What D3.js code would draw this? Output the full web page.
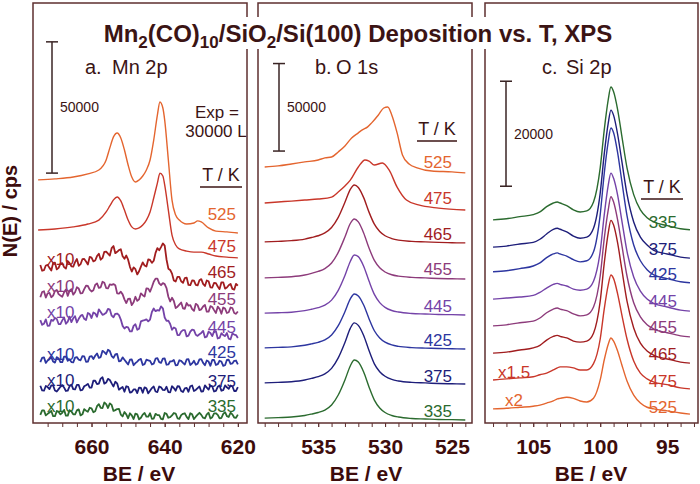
<!DOCTYPE html>
<html>
<head>
<meta charset="utf-8">
<script src="https://cdn.jsdelivr.net/npm/d3@7"></script>
<style>
  body { margin: 0; background: #fff; }
  svg { display: block; font-family: "Liberation Sans", Arial, Helvetica, sans-serif; }
</style>
</head>
<body>
<svg id="chart" width="700" height="484"></svg>
<script>
// temperatures, top trace first
const temps = ['525', '475', '465', '455', '445', '425', '375', '335'];
const traceColors = ['#e4652f', '#c9372a', '#a11d1f', '#8d3b7b', '#7443a8', '#2d36a0', '#1e1e7a', '#2b6b2f'];

// ---- a. Mn 2p (kcps, relative to each trace offset) ----
const mnPeakBE = [674.6, 670, 665, 661, 658, 656, 655, 654, 653, 652, 651, 650, 649, 648, 647, 646, 645, 644, 643, 642,
  641.3, 640.5, 640, 639, 638, 637, 636, 634, 632, 631, 630, 628, 626, 623, 620];
const mn525 = [20.2, 20.6, 21.3, 22.5, 24.0, 27.8, 32.4, 36.6, 38.1, 36.2, 31.6, 25.9, 21.3, 19.4, 20.2, 21.7, 24.0, 27.8, 35.4, 44.9,
  49.9, 47.6, 43.0, 27.8, 12.5, 6.8, 4.9, 3.4, 3.8, 4.6, 4.2, 1.9, 0.7, 0.4, 0];
const mn475 = [10.6, 11.0, 11.8, 12.9, 14.4, 17.5, 19.8, 22.1, 23.2, 21.7, 18.2, 14.4, 11.8, 11.0, 11.4, 12.5, 14.4, 17.5, 22.8, 28.5,
  32.3, 31.2, 27.8, 18.2, 8.7, 4.9, 3.4, 2.6, 2.2, 2.2, 2.2, 1.5, 0.7, 0.3, 0];

// x10 traces, sampled every 0.5 eV from 674 to 620 eV
const mnGrid = d3.range(674, 619.99, -0.5);
const mn465 = [8.4, 6.2, 6.4, 8.2, 8.4, 7.3, 6.3, 9.1, 9.3, 6.7, 7.3, 8.9, 9.1, 7.6, 7.0, 9.9, 9.1, 7.9, 7.8, 9.5,
  10.7, 8.1, 8.7, 10.6, 10.7, 9.7, 8.6, 11.5, 11.2, 9.8, 10.1, 11.8, 12.7, 10.4, 11.1, 13.4, 13.5, 12.7, 12.0, 14.8,
  15.6, 12.9, 13.4, 14.1, 14.4, 11.7, 10.8, 12.0, 10.4, 7.7, 5.9, 7.5, 6.8, 4.8, 6.0, 7.8, 9.4, 8.2, 7.8, 10.5,
  10.3, 9.2, 10.0, 13.0, 14.8, 14.0, 15.2, 16.6, 15.8, 10.5, 7.0, 6.5, 5.1, 2.5, 2.1, 3.9, 3.9, 2.2, 1.6, 3.4,
  3.6, 0.8, 0.7, 2.5, 2.4, 0.8, 0.6, 2.6, 3.0, 1.2, 0.4, 2.5, 2.2, -0.1, -0.2, 1.6, 1.5, 0.2, -0.8, 1.8,
  1.8, -0.6, -0.2, 0.7, 1.2, -0.7, -1.0, 1.2, 0.5];
const mn455 = [5.6, 7.6, 7.9, 5.5, 7.1, 7.3, 5.6, 6.2, 8.0, 8.4, 6.8, 6.3, 5.8, 7.5, 8.6, 6.1, 8.1, 8.7, 6.6, 7.5,
  9.4, 8.9, 7.1, 7.2, 8.7, 10.0, 9.9, 8.5, 7.8, 8.3, 10.3, 10.9, 9.2, 9.4, 11.5, 11.1, 9.1, 9.0, 10.5, 10.3,
  10.6, 10.2, 7.1, 7.0, 7.7, 6.7, 4.8, 3.4, 5.0, 5.1, 2.6, 3.7, 5.8, 4.2, 4.8, 7.1, 6.4, 5.9, 9.0, 8.9,
  7.7, 9.5, 11.5, 12.7, 12.7, 10.9, 10.2, 11.0, 10.6, 9.1, 5.8, 4.0, 5.4, 4.2, 1.5, 2.0, 2.8, 3.6, 1.4, 1.2,
  3.4, 2.4, 2.6, 1.1, 0.4, 3.1, 2.6, 0.7, 1.0, 2.1, 2.7, 0.1, 0.1, 2.2, 1.9, 0.7, -0.4, 2.0, 1.2, -0.7,
  1.7, 1.3, -0.4, -0.1, 1.7, 1.5, -0.4, -0.7, 0.2];
const mn445 = [6.4, 4.6, 5.0, 6.7, 4.2, 4.3, 6.5, 6.1, 7.2, 6.8, 4.9, 4.9, 6.3, 7.4, 5.0, 5.8, 7.7, 5.6, 7.1, 7.9,
  5.5, 6.9, 8.0, 8.4, 6.9, 6.4, 9.1, 8.7, 7.2, 9.3, 8.9, 7.7, 10.5, 9.5, 8.4, 8.7, 9.2, 10.7, 10.4, 8.1,
  7.5, 8.8, 8.9, 8.3, 6.6, 4.2, 3.2, 3.8, 3.6, 2.1, 2.1, 4.2, 4.8, 2.7, 3.1, 5.9, 6.2, 6.4, 6.7, 5.9,
  6.6, 9.5, 10.8, 9.8, 10.2, 10.0, 11.6, 10.9, 7.4, 6.1, 6.2, 4.9, 2.7, 3.6, 3.2, 0.7, 0.7, 2.0, 2.6, 2.6,
  0.2, 0.5, 2.0, 2.8, 2.6, 0.8, 0.4, 1.0, 1.5, 2.3, -0.2, 0.1, 2.0, 1.5, 0.3, 2.1, 2.2, -0.6, -0.4, 1.4,
  0.7, 0.3, 1.5, -0.7, -0.9, 1.3, 0.9, 0.7, -0.4];
const mn425 = [0.3, 1.9, 2.1, 0.0, 0.9, 1.4, 2.2, 0.5, 0.1, 2.2, 1.7, 0.3, 0.3, 2.4, 2.4, 0.8, 1.3, 0.3, 0.2, 2.0,
  2.2, 1.2, 1.0, 2.6, 2.5, 0.4, 0.5, 2.4, 2.6, 1.5, 2.7, 3.6, 1.9, 2.2, 4.6, 4.1, 3.3, 5.0, 4.5, 2.6,
  1.9, 3.2, 3.4, 0.6, 0.8, 2.1, 1.2, 0.3, -0.6, 1.2, 1.3, -0.9, -0.1, 0.5, 1.2, 1.5, -0.8, -0.5, 1.2, 1.0,
  0.8, -0.6, -0.3, 1.6, 1.8, 0.3, 0.0, 1.6, 1.7, -0.7, -0.6, 0.6, 0.6, 1.1, -0.9, -0.8, 1.0, 0.8, 0.0, -0.6,
  1.3, 1.4, -0.8, -0.2, 0.8, -0.7, -0.3, 1.3, 1.4, 0.0, -0.9, 0.9, 0.5, -1.1, 1.1, 1.1, -0.8, -0.5, 0.8, 0.5,
  -1.1, -0.9, 1.1, 1.2, -0.4, -0.2, 0.8, 0.9, -0.6];
const mn375 = [0.9, -0.9, -1.0, 0.8, 0.4, -0.4, 1.0, 1.0, -0.9, -1.3, -0.4, 0.5, 1.1, 0.2, -1.1, -1.0, 0.7, 1.3, -0.4, -0.5,
  1.2, 1.2, -0.9, -0.7, 0.7, 1.1, 1.6, 0.2, 0.2, 2.8, 2.8, 1.5, 1.7, 3.6, 4.1, 1.7, 2.1, 3.5, 3.1, 1.8,
  0.6, 2.4, 1.8, -0.6, -0.1, 0.4, -1.4, 0.7, 0.5, -1.7, -1.5, -0.5, -0.5, -1.9, 0.2, 0.1, -1.8, 0.3, -0.1, -2.0,
  -1.0, 0.0, 0.6, -1.3, -1.5, 0.6, 0.3, -0.7, -0.8, 0.5, -1.5, -1.6, 0.7, 0.0, -1.0, 0.7, 0.6, -1.1, -1.5, -0.1,
  0.1, -1.4, 0.7, 1.0, -1.1, -0.7, 0.0, 0.6, -1.3, -1.2, 1.0, 0.2, -0.6, 1.0, 0.6, -1.3, -1.1, 0.5, 1.0, -1.0,
  -0.8, 1.0, 0.3, -0.3, 1.0, 0.7, -1.1, -1.1, 0.4];
const mn335 = [0.1, 1.8, 1.8, -0.1, 0.5, 1.0, 1.6, -0.4, -0.4, 1.6, 1.2, 0.3, 0.9, 2.0, -0.2, -0.2, 1.9, 1.4, 0.3, 0.3,
  1.8, 2.2, -0.1, 0.3, 2.3, 1.7, 1.3, 2.8, 2.6, 1.1, 1.5, 3.4, 4.2, 2.8, 2.7, 4.8, 4.2, 2.7, 4.5, 3.9,
  1.6, 1.9, 2.3, 2.4, 0.2, -0.5, 1.2, 0.3, -1.2, 0.7, -0.1, -1.5, 0.6, 0.3, -1.6, -1.0, 0.2, 0.8, -0.6, -0.6,
  0.7, -1.4, -1.3, 0.5, 0.0, 0.0, -1.4, -1.6, 0.8, 0.5, -1.0, -0.8, -0.1, 0.8, 0.6, -1.2, -1.4, 0.0, 0.5, 0.7,
  -0.7, -1.5, 0.7, 0.3, -1.5, -0.6, 0.2, 0.9, 0.1, -1.0, -1.2, 0.3, 0.9, -1.3, -0.8, 0.7, 0.7, 0.1, -1.2, -1.1,
  0.5, 1.1, -0.4, -0.7, 0.9, 0.3, -0.9, -1.0, 0.2];
const mnOffsets = [72.4, 62.9, 51.8, 42.3, 32.8, 22.9, 13.3, 3.0];

// ---- b. O 1s (kcps) ----
const o525BE = [539, 538, 537, 536, 535, 534.5, 534, 533.5, 533, 532.5, 532, 531.7, 531.3, 531, 530.5, 530.1, 529.8, 529.5,
  529.1, 528.7, 528.2, 527.6, 526.5, 525, 524];
const o525 = [3.4, 4.0, 5.1, 6.3, 7.4, 8.6, 9.1, 12.0, 15.4, 20.0, 22.9, 24.6, 26.3, 28.6, 33.1, 37.1, 37.7, 33.1,
  22.9, 10.3, 5.1, 2.9, 1.1, 0.6, 0];
const o475BE = [539, 538, 537, 536, 535, 534, 533.5, 533, 532.6, 532, 531.5, 531.2, 530.8, 530.2, 529.7, 529.1, 528.4, 527.5, 526, 524];
const o475 = [4.0, 4.6, 5.1, 5.7, 6.3, 7.4, 10.3, 13.7, 17.1, 24.6, 28.6, 28.0, 25.7, 26.9, 22.9, 13.1, 5.7, 2.9, 1.1, 0];
const oBE = [539, 538, 537, 536, 535.5, 535, 534.5, 534, 533.5, 533, 532.6, 532.3, 532, 531.6, 531.2, 530.8, 530.4, 530,
  529.5, 529, 528, 527, 526, 525, 524];
const o465 = [0.6, 0.9, 1.3, 2.2, 3.1, 4.1, 5.7, 8.8, 14.6, 23.2, 30.6, 33.1, 31.7, 25.9, 17.6, 10.7, 6.5, 4.1, 2.5, 1.6, 0.9, 0.6, 0.3, 0.1, 0];
const o455 = [0.6, 0.9, 1.3, 2.3, 3.2, 4.3, 5.9, 9.1, 15.2, 24.0, 31.7, 34.3, 32.6, 26.3, 17.7, 10.6, 6.4, 4.0, 2.4, 1.6, 0.9, 0.6, 0.3, 0.1, 0];
const o445 = [1.1, 1.3, 1.6, 2.5, 3.3, 4.2, 5.6, 8.5, 14.1, 22.6, 30.6, 34.3, 33.4, 27.9, 19.4, 11.8, 7.1, 4.4, 2.6, 1.7, 0.9, 0.6, 0.3, 0.2, 0];
const o425 = [0.6, 0.9, 1.2, 2.1, 2.9, 3.8, 5.2, 8.0, 13.3, 21.3, 28.6, 31.4, 30.3, 25.1, 17.3, 10.4, 6.3, 3.9, 2.3, 1.5, 0.8, 0.5, 0.3, 0.1, 0];
const o375 = [0.6, 0.9, 1.3, 2.3, 3.2, 4.2, 5.8, 8.9, 14.9, 23.7, 31.8, 34.9, 33.5, 27.7, 19.1, 11.5, 7.0, 4.4, 2.6, 1.7, 0.9, 0.6, 0.3, 0.1, 0];
const o335 = [1.1, 1.4, 1.7, 2.6, 3.4, 4.3, 5.7, 8.6, 14.3, 22.9, 30.9, 34.3, 33.1, 27.4, 18.9, 11.4, 6.9, 4.3, 2.6, 1.7, 0.9, 0.6, 0.3, 0.2, 0];
const oOffsets = [142.9, 121.7, 102.9, 82.3, 61.7, 42.3, 22.3, 1.7];

// ---- c. Si 2p (kcps) ----
const siBE = [108, 107, 106, 105, 104.5, 104, 103.5, 103.2, 103, 102.5, 102, 101.5, 101, 100.5, 100, 99.7, 99.4, 99.2, 99,
  98.7, 98.4, 98, 97.5, 97, 96.5, 96, 95, 94, 93.3];
const si525 = [1.0, 1.1, 1.3, 1.5, 1.7, 2.1, 2.5, 2.9, 3.0, 3.2, 3.0, 2.5, 2.3, 3.0, 6.5, 10.3, 13.3, 14.5, 13.9, 12.0, 9.5, 6.3, 3.6, 2.1, 1.3, 1.0, 0.6, 0.2, 0];
const si475 = [1.7, 1.9, 2.1, 2.3, 2.7, 3.0, 3.6, 4.0, 4.2, 4.2, 4.0, 3.6, 3.6, 4.8, 9.5, 15.2, 19.8, 21.7, 21.0, 18.1, 14.3, 9.5, 5.3, 3.0, 1.9, 1.3, 0.8, 0.2, 0];
const si465 = [1.9, 2.1, 2.5, 2.9, 3.4, 4.4, 5.1, 5.3, 5.1, 4.8, 4.2, 4.0, 4.2, 5.7, 11.8, 19.0, 24.8, 27.2, 26.3, 22.9, 18.1, 11.8, 6.7, 3.8, 2.3, 1.5, 0.8, 0.2, 0];
const si455 = [2.1, 2.3, 2.7, 3.0, 3.6, 4.6, 5.3, 5.5, 5.3, 5.0, 4.4, 4.0, 4.2, 5.7, 11.6, 18.7, 24.2, 26.7, 25.7, 22.3, 17.7, 11.6, 6.5, 3.8, 2.3, 1.5, 0.8, 0.2, 0];
const si445 = [2.3, 2.5, 2.7, 3.0, 3.6, 4.4, 5.1, 5.3, 5.1, 4.8, 4.2, 4.0, 4.2, 5.7, 11.4, 18.3, 24.0, 26.3, 25.3, 22.1, 17.5, 11.4, 6.5, 3.8, 2.3, 1.5, 0.8, 0.2, 0];
const si425 = [2.1, 2.3, 2.7, 3.2, 3.8, 4.8, 5.5, 5.7, 5.5, 5.1, 4.4, 4.0, 4.2, 5.9, 13.0, 20.8, 26.9, 29.5, 28.6, 24.8, 19.6, 12.8, 7.2, 4.2, 2.5, 1.5, 0.8, 0.2, 0];
const si375 = [2.1, 2.3, 2.7, 3.0, 3.6, 4.6, 5.5, 5.7, 5.5, 5.0, 4.2, 3.8, 4.0, 5.7, 12.4, 19.8, 25.7, 28.2, 27.2, 23.6, 18.7, 12.2, 6.9, 4.0, 2.5, 1.5, 0.8, 0.2, 0];
const si335 = [1.9, 2.1, 2.5, 2.9, 3.4, 4.4, 5.1, 5.3, 5.1, 4.6, 3.8, 3.4, 3.6, 5.3, 11.8, 19.0, 24.8, 27.2, 26.3, 22.9, 18.1, 11.8, 6.7, 3.8, 2.3, 1.5, 0.8, 0.2, 0];
const siOffsets = [1.7, 6.5, 11.4, 16.4, 21.3, 26.7, 31.4, 36.8];

const FRAME = '#5e2f2f';
const DARK = '#3b1414';
const AXIS_TXT = '#3d0c0c';
const TOP = 3, BOTTOM = 423;

const svg = d3.select('#chart');

const panels = [
  {
    x0: 33, x1: 247, domain: [676, 617.5], yMax: 160,
    majors: [660, 640, 620], minors: d3.range(672, 619, -4),
    prefix: 'a.', name: 'Mn 2p', prefixX: 85, nameX: 112,
    bar: { x: 52, base: 95.2, size: 50, label: 50000 },
    traces: [
      [mnPeakBE, mn525], [mnPeakBE, mn475], [mnGrid, mn465], [mnGrid, mn455],
      [mnGrid, mn445], [mnGrid, mn425], [mnGrid, mn375], [mnGrid, mn335]
    ],
    noisy: [false, false, true, true, true, true, true, true],
    offsets: mnOffsets,
    labelRight: 236, labelY: [220, 252, 278, 305, 333, 358, 387, 412],
    tk: { x: 221, y: 181, w: 42 },
    factors: [null, null, { t: 'x10', x: 47, y: 265 }, { t: 'x10', x: 47, y: 292 }, { t: 'x10', x: 47, y: 318 },
      { t: 'x10', x: 47, y: 360 }, { t: 'x10', x: 47, y: 386 }, { t: 'x10', x: 47, y: 412 }]
  },
  {
    x0: 258, x1: 472, domain: [539.5, 523.5], yMax: 240,
    majors: [535, 530, 525], minors: d3.range(539, 523, -1),
    prefix: 'b.', name: 'O 1s', prefixX: 315, nameX: 336,
    bar: { x: 279, base: 155.4, size: 50, label: 50000 },
    traces: [
      [o525BE, o525], [o475BE, o475], [oBE, o465], [oBE, o455],
      [oBE, o445], [oBE, o425], [oBE, o375], [oBE, o335]
    ],
    noisy: [false, false, false, false, false, false, false, false],
    offsets: oOffsets,
    labelRight: 452, labelY: [168, 204, 240, 275, 312, 346, 382, 417],
    tk: { x: 437, y: 135, w: 40 },
    factors: []
  },
  {
    x0: 485, x1: 698, domain: [108.6, 92.7], yMax: 80,
    majors: [105, 100, 95], minors: d3.range(108, 92, -1),
    prefix: 'c.', name: 'Si 2p', prefixX: 542, nameX: 566,
    bar: { x: 506, base: 45.1, size: 20, label: 20000 },
    traces: [
      [siBE, si525], [siBE, si475], [siBE, si465], [siBE, si455],
      [siBE, si445], [siBE, si425], [siBE, si375], [siBE, si335]
    ],
    noisy: [false, false, false, false, false, false, false, false],
    offsets: siOffsets,
    labelRight: 677, labelY: [413, 387, 360, 333, 307, 280, 255, 228],
    tk: { x: 662, y: 193, w: 42 },
    factors: [{ t: 'x2', x: 505, y: 406 }, { t: 'x1.5', x: 498, y: 378 }]
  }
];

const xTitleX = [139, 366, 591];

panels.forEach((p, pi) => {
  const x = d3.scaleLinear().domain(p.domain).range([p.x0, p.x1]);
  const y = d3.scaleLinear().domain([0, p.yMax]).range([BOTTOM, TOP]);
  const g = svg.append('g');

  // frame
  g.append('rect')
    .attr('x', p.x0).attr('y', TOP)
    .attr('width', p.x1 - p.x0).attr('height', BOTTOM - TOP)
    .attr('fill', 'none').attr('stroke', FRAME).attr('stroke-width', 1.5);

  // minor + major ticks
  const minorAxis = g.append('g').attr('transform', `translate(0,${BOTTOM})`)
    .call(d3.axisBottom(x).tickValues(p.minors).tickSize(4).tickFormat(''));
  minorAxis.select('.domain').remove();
  minorAxis.selectAll('line').attr('stroke', FRAME).attr('stroke-width', 1);

  const majorAxis = g.append('g').attr('transform', `translate(0,${BOTTOM})`)
    .call(d3.axisBottom(x).tickValues(p.majors).tickSizeInner(4).tickSizeOuter(0)
      .tickPadding(12).tickFormat(d3.format('d')));
  majorAxis.select('.domain').remove();
  majorAxis.selectAll('line').attr('stroke', FRAME).attr('stroke-width', 1);
  majorAxis.selectAll('text')
    .attr('font-family', '"Liberation Sans", Arial, sans-serif')
    .attr('font-size', 21).attr('font-weight', 'bold').attr('fill', AXIS_TXT);

  // x title
  svg.append('text')
    .attr('x', xTitleX[pi]).attr('y', 481).attr('text-anchor', 'middle')
    .attr('font-size', 21).attr('font-weight', 'bold').attr('fill', AXIS_TXT)
    .text('BE / eV');

  // traces
  p.traces.forEach((t, i) => {
    const off = p.offsets[i];
    const line = d3.line()
      .x(d => x(d[0]))
      .y(d => y(d[1] + off))
      .curve(p.noisy[i] ? d3.curveLinear : d3.curveMonotoneX);
    g.append('path')
      .datum(d3.zip(t[0], t[1]))
      .attr('d', line)
      .attr('fill', 'none')
      .attr('stroke', traceColors[i])
      .attr('stroke-width', p.noisy[i] ? 1.8 : 1.4)
      .attr('stroke-linejoin', 'round');
  });

  // temperature labels
  temps.forEach((tp, i) => {
    g.append('text')
      .attr('x', p.labelRight).attr('y', p.labelY[i])
      .attr('text-anchor', 'end')
      .attr('font-size', 17).attr('fill', traceColors[i])
      .text(tp);
  });

  // multiplication factors (x10, x1.5, x2)
  p.factors.forEach((f, i) => {
    if (!f) return;
    g.append('text').attr('x', f.x).attr('y', f.y)
      .attr('font-size', 17).attr('fill', traceColors[i]).text(f.t);
  });

  // T / K header
  g.append('text')
    .attr('x', p.tk.x).attr('y', p.tk.y).attr('text-anchor', 'middle')
    .attr('font-size', 18).attr('fill', DARK).text('T / K');
  g.append('line')
    .attr('x1', p.tk.x - p.tk.w / 2).attr('x2', p.tk.x + p.tk.w / 2)
    .attr('y1', p.tk.y + 6).attr('y2', p.tk.y + 6)
    .attr('stroke', DARK).attr('stroke-width', 1.5);

  // intensity scale bar
  const b = p.bar;
  const yb = y(b.base), yt = y(b.base + b.size);
  const sb = g.append('g').attr('stroke', '#3a2424').attr('stroke-width', 1.5);
  sb.append('line').attr('x1', b.x).attr('x2', b.x).attr('y1', yb).attr('y2', yt);
  sb.append('line').attr('x1', b.x - 6).attr('x2', b.x + 6).attr('y1', yb).attr('y2', yb);
  sb.append('line').attr('x1', b.x - 6).attr('x2', b.x + 6).attr('y1', yt).attr('y2', yt);
  g.append('text')
    .attr('x', b.x + 8).attr('y', (yb + yt) / 2 + 5)
    .attr('font-size', 14).attr('fill', DARK)
    .text(d3.format('d')(b.label));

  // panel title
  g.append('text').attr('x', p.prefixX).attr('y', 74)
    .attr('font-size', 20).attr('fill', DARK).text(p.prefix);
  g.append('text').attr('x', p.nameX).attr('y', 74)
    .attr('font-size', 20).attr('fill', DARK).text(p.name);
});

// exposure note in panel a
svg.append('text').attr('x', 217).attr('y', 118).attr('text-anchor', 'middle')
  .attr('font-size', 17).attr('fill', DARK).text('Exp =');
svg.append('text').attr('x', 216).attr('y', 137).attr('text-anchor', 'middle')
  .attr('font-size', 17).attr('fill', DARK).text('30000 L');

// y axis title
svg.append('text')
  .attr('transform', 'translate(17,211) rotate(-90)')
  .attr('text-anchor', 'middle')
  .attr('font-size', 20).attr('font-weight', 'bold').attr('fill', AXIS_TXT)
  .text('N(E) / cps');

// main title with white backing
svg.append('rect').attr('x', 95).attr('y', 17).attr('width', 527).attr('height', 32).attr('fill', '#fff');
const title = svg.append('text')
  .attr('x', 358).attr('y', 42).attr('text-anchor', 'middle')
  .attr('font-size', 24).attr('font-weight', 'bold').attr('fill', DARK);
const parts = [['Mn', 0], ['2', 1], ['(CO)', 0], ['10', 1], ['/SiO', 0], ['2', 1], ['/Si(100) Deposition vs. T, XPS', 0]];
let shifted = false;
parts.forEach(([txt, sub]) => {
  const ts = title.append('tspan').text(txt);
  if (sub) { ts.attr('font-size', 17).attr('dy', 6); shifted = true; }
  else if (shifted) { ts.attr('dy', -6); shifted = false; }
});
</script>
</body>
</html>
